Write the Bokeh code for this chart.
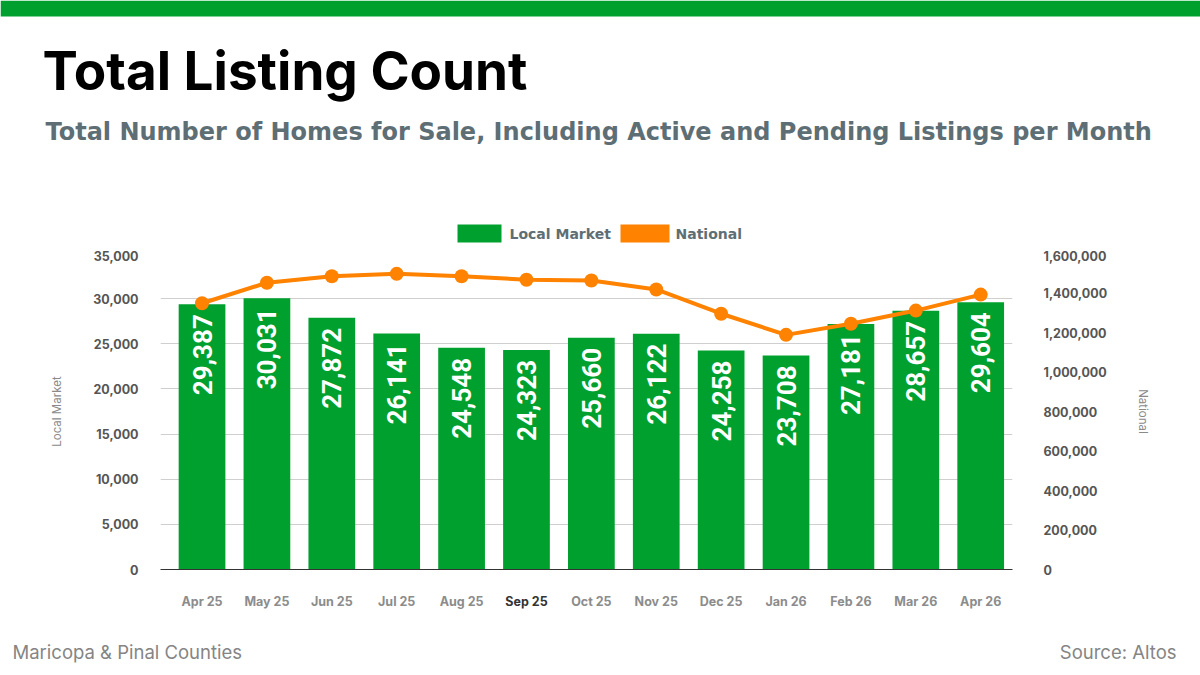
import math

from bokeh.plotting import figure
from bokeh.layouts import column
from bokeh.models import (Range1d, LinearAxis, FixedTicker, NumeralTickFormatter,
                          ColumnDataSource)
from bokeh.embed import file_html
from bokeh.resources import INLINE
from bokeh.core.properties import value

# ---- data -------------------------------------------------------------
months = ["Apr 25", "May 25", "Jun 25", "Jul 25", "Aug 25", "Sep 25", "Oct 25",
          "Nov 25", "Dec 25", "Jan 26", "Feb 26", "Mar 26", "Apr 26"]
local_market = [29387, 30031, 27872, 26141, 24548, 24323, 25660,
                26122, 24258, 23708, 27181, 28657, 29604]
national = [1348000, 1452000, 1485000, 1497000, 1485000, 1467000, 1463000,
            1418000, 1295000, 1188000, 1244000, 1311000, 1392000]
left_ticks = [0, 5000, 10000, 15000, 20000, 25000, 30000, 35000]
right_ticks = [0, 200000, 400000, 600000, 800000, 1000000, 1200000, 1400000, 1600000]
highlight_month = "Sep 25"

# ---- styling ----------------------------------------------------------
GREEN = "#00A02E"
ORANGE = "#FF8200"
SLATE = "#5E6E75"
TICK = "#555555"
FOOT = "#858585"
FONT = "Inter"
WIDE = "DejaVu Sans"

W = 1200
HEADER_H, CHART_H, FOOTER_H = 250, 375, 50
FRAME_L, FRAME_R = 160, 1012


def blank_panel(height):
    """A plain drawing strip whose frame fills the whole strip (page pixels)."""
    f = figure(width=W, height=height, output_backend="svg", toolbar_location=None,
               x_range=Range1d(0, W), y_range=Range1d(height, 0),
               x_axis_type=None, y_axis_type=None, min_border=0, frame_align=False,
               outline_line_color=None, background_fill_color="white",
               border_fill_color="white")
    f.grid.visible = False
    return f


# ---- header: band, title, subtitle, legend ----------------------------
header = blank_panel(HEADER_H)
header.quad(left=[0], right=[W], top=[0], bottom=[16], fill_color=GREEN, line_color=None)
header.text(x=[42], y=[70], text=["Total Listing Count"], text_baseline="middle",
            text_font=value(FONT), text_font_style="bold", text_font_size="53px",
            text_color="#000000")
header.text(x=[45], y=[131],
            text=["Total Number of Homes for Sale, Including Active and Pending Listings per Month"],
            text_baseline="middle", text_font=value(WIDE), text_font_style="bold",
            text_font_size="24px", text_color=SLATE)

legend_names = ["Local Market", "National"]
legend_colors = [GREEN, ORANGE]
header.quad(left=[457, 620], right=[501, 669], top=[224, 224], bottom=[242, 242],
            fill_color=legend_colors, line_color=None)
header.text(x=[509, 675], y=[233, 233], text=legend_names, text_baseline="middle",
            text_font=value(WIDE), text_font_style="bold", text_font_size="14px",
            text_color=SLATE)

# ---- chart ------------------------------------------------------------
idx = list(range(len(months)))
src = ColumnDataSource(dict(
    x=idx,
    local=local_market,
    national=national,
    label=[f"{v:,}" for v in local_market],
))

p = figure(width=W, height=CHART_H, output_backend="svg", toolbar_location=None,
           x_range=Range1d(-0.64, 12.49), y_range=Range1d(0, 35000),
           min_border_left=FRAME_L, min_border_right=W - FRAME_R,
           min_border_top=3, min_border_bottom=56, frame_align=False,
           outline_line_color=None, background_fill_color="white",
           border_fill_color="white")
p.extra_y_ranges = {"nat": Range1d(0, 1600000)}

p.xgrid.grid_line_color = None
p.ygrid.ticker = FixedTicker(ticks=left_ticks)
p.ygrid.grid_line_color = "#CFCFCF"
p.ygrid.grid_line_width = 1


def style_value_axis(ax, standoff):
    ax.axis_line_color = None
    ax.major_tick_line_color = None
    ax.minor_tick_line_color = None
    ax.major_tick_out = 0
    ax.major_label_standoff = standoff
    ax.major_label_text_font = FONT
    ax.major_label_text_font_style = "bold"
    ax.major_label_text_font_size = "12.5px"
    ax.major_label_text_color = TICK
    ax.axis_label_text_font = FONT
    ax.axis_label_text_font_style = "normal"
    ax.axis_label_text_font_size = "11.5px"
    ax.axis_label_text_color = "#8A8A8A"
    ax.axis_label_standoff = 26


# left axis: local market
ya = p.yaxis[0]
ya.ticker = FixedTicker(ticks=left_ticks)
ya.formatter = NumeralTickFormatter(format="0,0")
ya.axis_label = "Local Market"
style_value_axis(ya, 22)

# right axis: national
ra = LinearAxis(y_range_name="nat", ticker=FixedTicker(ticks=right_ticks),
                formatter=NumeralTickFormatter(format="0,0"), axis_label="National")
style_value_axis(ra, 31)
p.add_layout(ra, "right")

# bottom axis: months (highlighted month drawn by its own axis below)
hi = months.index(highlight_month)
xa = p.xaxis[0]
xa.ticker = FixedTicker(ticks=idx)
xa.major_label_overrides = {i: ("" if i == hi else m) for i, m in enumerate(months)}
xa.axis_line_color = "#333333"
xa.axis_line_width = 1.2
xa.major_tick_line_color = None
xa.minor_tick_line_color = None
xa.major_tick_out = 0
xa.major_label_standoff = 24
xa.major_label_text_font = FONT
xa.major_label_text_font_style = "bold"
xa.major_label_text_font_size = "12.5px"
xa.major_label_text_color = "#8C8C8C"

xh = LinearAxis(ticker=FixedTicker(ticks=[hi]),
                major_label_overrides={hi: highlight_month})
xh.axis_line_color = None
xh.major_tick_line_color = None
xh.minor_tick_line_color = None
xh.major_tick_out = 0
xh.major_tick_in = 0
xh.major_label_standoff = -18
xh.major_label_text_font = FONT
xh.major_label_text_font_style = "bold"
xh.major_label_text_font_size = "12.5px"
xh.major_label_text_color = "#333333"
p.add_layout(xh, "below")

# bars, value labels, national line
p.vbar(x="x", top="local", width=0.72, source=src, fill_color=GREEN, line_color=None)
p.text(x="x", y="local", text="label", source=src, angle=math.pi / 2,
       text_align="right", text_baseline="middle", y_offset=10,
       text_color="white", text_font=value("Roboto"), text_font_style="bold",
       text_font_size="26px")
p.line(x="x", y="national", source=src, y_range_name="nat",
       line_color=ORANGE, line_width=4)
p.scatter(x="x", y="national", source=src, y_range_name="nat", size=14,
          fill_color=ORANGE, line_color=None)

# ---- footer -------------------------------------------------------------
footer = blank_panel(FOOTER_H)
footer.text(x=[12], y=[26], text=["Maricopa & Pinal Counties"], text_baseline="middle",
            text_font=value(FONT), text_font_size="18.5px", text_color=FOOT)
footer.text(x=[1176], y=[26], text=["Source: Altos"], text_align="right",
            text_baseline="middle", text_font=value(FONT), text_font_size="18.5px",
            text_color=FOOT)

page = column(header, p, footer, spacing=0)
open("out.html", "w").write(file_html(page, INLINE))
